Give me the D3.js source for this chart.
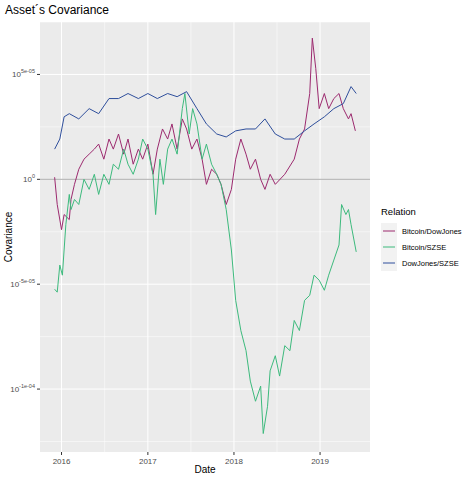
<!DOCTYPE html><html><head><meta charset="utf-8"><script src="https://cdn.jsdelivr.net/npm/d3@7"></script>
<style>body{margin:0;background:#fff}text{font-family:Arial,"Liberation Sans",sans-serif}</style></head><body><svg id="c" width="474" height="479"></svg>
<script>
const seriesNames=["Bitcoin/DowJones","Bitcoin/SZSE","DowJones/SZSE"];
const colors=["#9c2a6f","#3dba7d","#2f4f9c"];
const yTickValues=[5,0,-5,-10];
const yTickExp=["5e-05","0","-5e-05","-1e-04"];
const xTickYears=[2016,2017,2018,2019];
const btcDjT=[2015.92,2015.95,2016.00,2016.03,2016.09,2016.11,2016.15,2016.20,2016.26,2016.32,2016.38,2016.43,2016.49,2016.55,2016.60,2016.66,2016.72,2016.77,2016.83,2016.89,2016.94,2017.00,2017.06,2017.11,2017.17,2017.23,2017.28,2017.34,2017.40,2017.45,2017.51,2017.57,2017.63,2017.68,2017.74,2017.80,2017.85,2017.91,2017.97,2018.02,2018.08,2018.14,2018.19,2018.25,2018.31,2018.36,2018.42,2018.48,2018.59,2018.70,2018.76,2018.82,2018.88,2018.91,2018.95,2018.99,2019.05,2019.10,2019.16,2019.22,2019.27,2019.33,2019.36,2019.41];
const btcDjV=[0.10,-1.20,-2.40,-1.68,-1.92,-0.96,-0.24,0.48,0.96,1.20,1.44,1.68,0.96,1.92,1.44,2.16,1.20,1.92,0.72,1.44,0.96,1.68,0.24,1.44,2.40,1.92,2.64,1.44,2.88,2.40,1.44,1.92,0.96,-0.24,0.48,0.24,-0.24,-1.20,-0.48,0.96,1.92,1.20,0.48,0.96,0,-0.48,0.24,-0.24,0.24,0.96,1.92,2.40,4.09,6.73,5.29,3.37,4.09,3.37,3.85,4.09,3.37,2.88,3.13,2.31];
const btcSzT=[2015.92,2015.95,2015.98,2016.01,2016.05,2016.09,2016.11,2016.15,2016.20,2016.26,2016.32,2016.38,2016.43,2016.49,2016.55,2016.60,2016.66,2016.72,2016.77,2016.83,2016.89,2016.94,2017.00,2017.06,2017.09,2017.14,2017.18,2017.23,2017.28,2017.34,2017.40,2017.43,2017.48,2017.52,2017.57,2017.63,2017.68,2017.74,2017.80,2017.85,2017.91,2017.97,2018.02,2018.08,2018.14,2018.19,2018.25,2018.31,2018.34,2018.39,2018.42,2018.48,2018.53,2018.59,2018.65,2018.70,2018.76,2018.82,2018.88,2018.93,2018.99,2019.05,2019.10,2019.16,2019.22,2019.25,2019.30,2019.33,2019.36,2019.42];
const btcSzV=[-5.24,-5.38,-4.09,-4.57,-2.16,-0.72,-1.44,-0.96,-1.20,0,-0.48,0.24,-0.72,0.24,-0.24,0.72,0.48,1.44,0.72,0.24,0.96,1.92,1.44,0.24,-1.68,0.96,-0.24,1.44,1.92,1.20,3.37,4.09,2.16,3.37,2.64,0.96,1.68,0.72,0.24,-0.24,-1.44,-3.37,-5.77,-7.21,-8.17,-9.62,-10.58,-9.86,-12.12,-10.82,-9.13,-8.41,-9.38,-7.93,-8.17,-6.73,-7.21,-5.77,-5.53,-4.57,-4.81,-5.29,-4.57,-3.85,-3.13,-1.20,-1.68,-1.44,-2.16,-3.46];
const djSzT=[2015.92,2015.98,2016.03,2016.09,2016.20,2016.32,2016.43,2016.55,2016.66,2016.77,2016.89,2017.00,2017.11,2017.23,2017.34,2017.45,2017.57,2017.68,2017.80,2017.91,2018.02,2018.14,2018.25,2018.36,2018.48,2018.59,2018.70,2018.82,2018.93,2019.05,2019.16,2019.27,2019.36,2019.42];
const djSzV=[1.44,1.92,2.98,3.13,2.88,3.37,3.13,3.85,3.85,4.09,3.85,4.09,3.85,4.09,3.94,4.18,3.37,2.64,2.16,2.02,2.31,2.40,2.40,2.88,2.16,1.92,1.92,2.31,2.64,2.98,3.37,3.61,4.42,4.09];
const data=[[btcDjT,btcDjV],[btcSzT,btcSzV],[djSzT,djSzV]];

const svg=d3.select("#c");
const L=40,R=370,T=22,B=452;
const toDate=y=>{const yr=Math.floor(y);const s=new Date(yr,0,1),e=new Date(yr+1,0,1);return new Date(+s+(y-yr)*(e-s));};
const x=d3.scaleTime().domain([toDate(2015.75),toDate(2019.58)]).range([L,R]);
const y=d3.scaleLinear().domain([-13,7.5]).range([B,T]);
svg.append("rect").attr("x",L).attr("y",T).attr("width",R-L).attr("height",B-T).attr("fill","#ebebeb");
const g=svg.append("g");
[7.5,2.5,-2.5,-7.5,-12.5].forEach(v=>g.append("line").attr("x1",L).attr("x2",R).attr("y1",y(v)).attr("y2",y(v)).attr("stroke","#fff").attr("stroke-width",0.5));
[2016.5,2017.5,2018.5].forEach(v=>g.append("line").attr("y1",T).attr("y2",B).attr("x1",x(toDate(v))).attr("x2",x(toDate(v))).attr("stroke","#fff").attr("stroke-width",0.5));
yTickValues.forEach(v=>g.append("line").attr("x1",L).attr("x2",R).attr("y1",y(v)).attr("y2",y(v)).attr("stroke","#fff").attr("stroke-width",1));
xTickYears.forEach(v=>g.append("line").attr("y1",T).attr("y2",B).attr("x1",x(toDate(v))).attr("x2",x(toDate(v))).attr("stroke","#fff").attr("stroke-width",1));
g.append("line").attr("x1",L).attr("x2",R).attr("y1",y(0)).attr("y2",y(0)).attr("stroke","#999").attr("stroke-width",0.8);
const line=d3.line().x(d=>x(toDate(d[0]))).y(d=>y(d[1]));
data.forEach((s,i)=>{svg.append("path").datum(s[0].map((t,j)=>[t,s[1][j]])).attr("d",line).attr("fill","none").attr("stroke",colors[i]).attr("stroke-width",1);});
// y ticks
yTickValues.forEach((v,i)=>{
 svg.append("line").attr("x1",L-3).attr("x2",L).attr("y1",y(v)).attr("y2",y(v)).attr("stroke","#333");
 const t=svg.append("text").attr("x",L-5).attr("y",y(v)+3).attr("text-anchor","end").attr("font-size",8).attr("fill","#4d4d4d");
 t.append("tspan").text("10");
 t.append("tspan").attr("dy",-4).attr("font-size",5.5).text(yTickExp[i]);
});
xTickYears.forEach(v=>{
 svg.append("line").attr("y1",B).attr("y2",B+3).attr("x1",x(toDate(v))).attr("x2",x(toDate(v))).attr("stroke","#333");
 svg.append("text").attr("x",x(toDate(v))).attr("y",B+12).attr("text-anchor","middle").attr("font-size",8).attr("fill","#4d4d4d").text(v);
});
svg.append("text").attr("x",(L+R)/2).attr("y",473).attr("text-anchor","middle").attr("font-size",10).text("Date");
svg.append("text").attr("transform",`translate(12,${(T+B)/2}) rotate(-90)`).attr("text-anchor","middle").attr("font-size",10).text("Covariance");
svg.append("text").attr("x",5).attr("y",14).attr("font-size",12).text("Asset´s Covariance");
svg.append("text").attr("x",381).attr("y",215).attr("font-size",9.5).text("Relation");
seriesNames.forEach((n,i)=>{const yy=231+i*16;
 svg.append("rect").attr("x",381).attr("y",yy-8).attr("width",16).attr("height",16).attr("fill","#f2f2f2");
 svg.append("line").attr("x1",383).attr("x2",395).attr("y1",yy).attr("y2",yy).attr("stroke",colors[i]);
 svg.append("text").attr("x",402).attr("y",yy+3).attr("font-size",7.5).text(n);});
</script></body></html>
